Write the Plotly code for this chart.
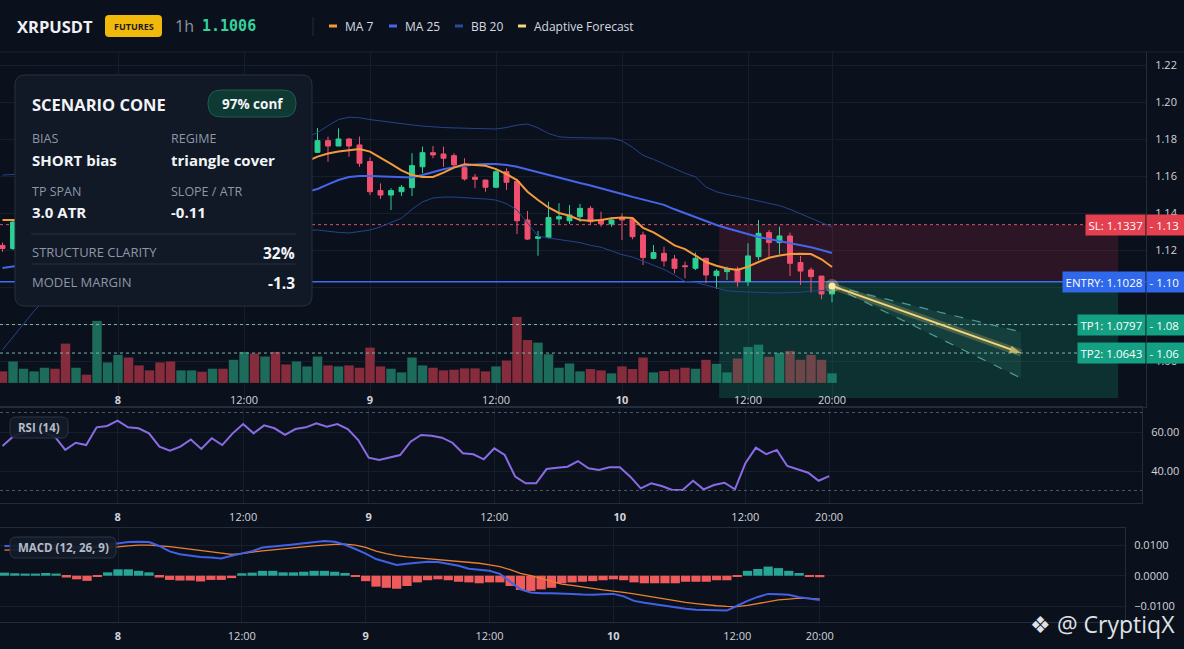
import pandas as pd
import plotly.graph_objects as go

W, H = 1184, 649
BG = "#0b111c"
GRID = "#161e2b"
AXLINE = "#242d3c"
TICK = "#d1d4dc"
UP = "#2ccf94"
DOWN = "#f0506e"
VOL_UP = "#1c6b5b"
VOL_DOWN = "#872c3c"
FONT = "Open Sans"

# ---- data -------------------------------------------------------------
symbol = "XRPUSDT"
interval = "1h"
last_price = 1.1006

times = pd.date_range("2024-11-07 13:00", periods=80, freq="h")

opens = [1.1225, 1.1208, 1.1351, 1.1392, 1.1418, 1.1446, 1.1424, 1.1328, 1.1372, 1.1350,
         1.1522, 1.1561, 1.1622, 1.1590, 1.1578, 1.1560, 1.1492, 1.1462, 1.1481, 1.1530,
         1.1490, 1.1551, 1.1524, 1.1602, 1.1681, 1.1622, 1.1690, 1.1671, 1.1640, 1.1692,
         1.1728, 1.1791, 1.1762, 1.1800, 1.1768, 1.1678, 1.1521, 1.1497, 1.1515, 1.1537,
         1.1650, 1.1726, 1.1719, 1.1710, 1.1645, 1.1593, 1.1578, 1.1539, 1.1623, 1.1570,
         1.1362, 1.1263, 1.1267, 1.1368, 1.1358, 1.1380, 1.1425, 1.1362, 1.1341, 1.1371,
         1.1366, 1.1281, 1.1155, 1.1182, 1.1151, 1.1115, 1.1101, 1.1155, 1.1061, 1.1083,
         1.1097, 1.1029, 1.1164, 1.1294, 1.1240, 1.1276, 1.1132, 1.1092, 1.1059, 1.0962]
highs = [1.1240, 1.1365, 1.1410, 1.1432, 1.1468, 1.1460, 1.1432, 1.1385, 1.1380, 1.1540,
         1.1578, 1.1640, 1.1635, 1.1605, 1.1590, 1.1568, 1.1505, 1.1495, 1.1542, 1.1538,
         1.1562, 1.1560, 1.1615, 1.1695, 1.1690, 1.1702, 1.1705, 1.1680, 1.1705, 1.1745,
         1.1859, 1.1813, 1.1858, 1.1805, 1.1813, 1.1701, 1.1560, 1.1534, 1.1551, 1.1723,
         1.1759, 1.1762, 1.1759, 1.1723, 1.1696, 1.1611, 1.1580, 1.1642, 1.1642, 1.1584,
         1.1411, 1.1303, 1.1461, 1.1453, 1.1443, 1.1449, 1.1438, 1.1407, 1.1377, 1.1398,
         1.1371, 1.1299, 1.1227, 1.1218, 1.1173, 1.1137, 1.1186, 1.1158, 1.1096, 1.1110,
         1.1110, 1.1236, 1.1362, 1.1308, 1.1326, 1.1294, 1.1168, 1.1105, 1.1059, 1.1011]
lows = [1.1190, 1.1200, 1.1335, 1.1378, 1.1405, 1.1410, 1.1310, 1.1320, 1.1335, 1.1342,
        1.1505, 1.1550, 1.1578, 1.1560, 1.1548, 1.1480, 1.1450, 1.1455, 1.1472, 1.1480,
        1.1485, 1.1512, 1.1518, 1.1595, 1.1610, 1.1615, 1.1660, 1.1628, 1.1632, 1.1680,
        1.1724, 1.1677, 1.1762, 1.1704, 1.1650, 1.1497, 1.1476, 1.1416, 1.1492, 1.1492,
        1.1615, 1.1696, 1.1650, 1.1650, 1.1575, 1.1534, 1.1515, 1.1534, 1.1524, 1.1286,
        1.1254, 1.1169, 1.1263, 1.1341, 1.1341, 1.1353, 1.1335, 1.1326, 1.1326, 1.1254,
        1.1258, 1.1119, 1.1150, 1.1110, 1.1074, 1.1047, 1.1092, 1.1020, 1.0989, 1.1038,
        1.1002, 1.1005, 1.1146, 1.1164, 1.1178, 1.1059, 1.1011, 1.0970, 1.0934, 1.0917]
closes = [1.1208, 1.1351, 1.1392, 1.1418, 1.1446, 1.1424, 1.1328, 1.1372, 1.1350, 1.1522,
          1.1561, 1.1622, 1.1590, 1.1578, 1.1560, 1.1492, 1.1462, 1.1481, 1.1530, 1.1490,
          1.1551, 1.1524, 1.1602, 1.1681, 1.1622, 1.1690, 1.1671, 1.1640, 1.1692, 1.1728,
          1.1791, 1.1762, 1.1800, 1.1762, 1.1669, 1.1515, 1.1497, 1.1521, 1.1539, 1.1656,
          1.1726, 1.1714, 1.1696, 1.1660, 1.1584, 1.1582, 1.1539, 1.1623, 1.1566, 1.1358,
          1.1259, 1.1272, 1.1375, 1.1380, 1.1389, 1.1425, 1.1353, 1.1341, 1.1362, 1.1362,
          1.1272, 1.1159, 1.1186, 1.1141, 1.1101, 1.1110, 1.1155, 1.1065, 1.1086, 1.1099,
          1.1029, 1.1168, 1.1290, 1.1240, 1.1276, 1.1128, 1.1086, 1.1056, 1.0962, 1.1006]
volumes = [3.5, 6.5, 4.3, 3.5, 4.6, 4.3, 11.9, 4.6, 2.5, 18.8,
           6.2, 8.5, 7.7, 5.3, 3.8, 6.2, 6.5, 3.8, 3.8, 3.4,
           4.3, 4.3, 7.0, 9.4, 8.9, 8.0, 9.4, 5.6, 6.5, 5.0,
           8.0, 5.3, 5.0, 5.3, 4.6, 10.7, 5.0, 4.3, 3.2, 7.7,
           5.3, 4.6, 3.8, 4.0, 4.4, 4.4, 3.5, 5.0, 6.8, 20.0,
           13.0, 12.2, 8.7, 4.6, 5.9, 3.5, 4.2, 3.8, 2.9, 5.0,
           4.2, 7.7, 3.2, 3.6, 4.1, 4.6, 4.3, 7.0, 5.8, 3.2,
           7.4, 10.9, 11.6, 7.9, 9.1, 9.7, 7.0, 8.5, 7.0, 2.9]

ma7 = [1.1362, 1.1360, 1.1362, 1.1370, 1.1385, 1.1398, 1.1392, 1.1392, 1.1385, 1.1405,
       1.1430, 1.1462, 1.1488, 1.1518, 1.1545, 1.1560, 1.1555, 1.1540, 1.1530, 1.1520,
       1.1515, 1.1510, 1.1520, 1.1545, 1.1565, 1.1590, 1.1620, 1.1640, 1.1660, 1.1680,
       1.1705, 1.1722, 1.1732, 1.1740, 1.1746, 1.1732, 1.1700, 1.1665, 1.1630, 1.1605,
       1.1595, 1.1595, 1.1618, 1.1645, 1.1664, 1.1661, 1.1655, 1.1637, 1.1610, 1.1578,
       1.1515, 1.1470, 1.1430, 1.1400, 1.1385, 1.1362, 1.1358, 1.1362, 1.1372, 1.1376,
       1.1373, 1.1320, 1.1295, 1.1262, 1.1225, 1.1205, 1.1170, 1.1135, 1.1115, 1.1100,
       1.1092, 1.1110, 1.1135, 1.1158, 1.1170, 1.1178, 1.1180, 1.1178, 1.1150, 1.1108]
ma25 = [1.1103, 1.1110, 1.1118, 1.1127, 1.1136, 1.1145, 1.1152, 1.1160, 1.1168, 1.1180,
        1.1195, 1.1212, 1.1228, 1.1245, 1.1262, 1.1278, 1.1292, 1.1308, 1.1325, 1.1342,
        1.1360, 1.1378, 1.1400, 1.1425, 1.1445, 1.1465, 1.1482, 1.1495, 1.1505, 1.1515,
        1.1530, 1.1555, 1.1578, 1.1594, 1.1600, 1.1600, 1.1598, 1.1594, 1.1590, 1.1592,
        1.1605, 1.1622, 1.1636, 1.1648, 1.1657, 1.1662, 1.1665, 1.1665, 1.1660, 1.1650,
        1.1635, 1.1620, 1.1605, 1.1588, 1.1575, 1.1562, 1.1549, 1.1535, 1.1520, 1.1503,
        1.1487, 1.1472, 1.1458, 1.1444, 1.1420, 1.1398, 1.1375, 1.1355, 1.1335, 1.1318,
        1.1302, 1.1285, 1.1270, 1.1259, 1.1248, 1.1238, 1.1228, 1.1215, 1.1200, 1.1184]
bb_upper = [1.1605, 1.1608, 1.1610, 1.1612, 1.1615, 1.1618, 1.1620, 1.1625, 1.1630, 1.1640,
            1.1650, 1.1662, 1.1672, 1.1682, 1.1690, 1.1698, 1.1704, 1.1710, 1.1715, 1.1720,
            1.1728, 1.1735, 1.1745, 1.1758, 1.1768, 1.1775, 1.1782, 1.1790, 1.1800, 1.1810,
            1.1835, 1.1872, 1.1905, 1.1918, 1.1915, 1.1905, 1.1897, 1.1890, 1.1882, 1.1876,
            1.1870, 1.1865, 1.1862, 1.1860, 1.1858, 1.1856, 1.1855, 1.1854, 1.1862, 1.1875,
            1.1881, 1.1860, 1.1830, 1.1812, 1.1808, 1.1806, 1.1805, 1.1805, 1.1805, 1.1790,
            1.1755, 1.1712, 1.1690, 1.1665, 1.1640, 1.1615, 1.1595, 1.1540, 1.1515, 1.1500,
            1.1490, 1.1478, 1.1468, 1.1455, 1.1440, 1.1420, 1.1395, 1.1370, 1.1345, 1.1324]
bb_lower = [1.0660, 1.0730, 1.0800, 1.0870, 1.0930, 1.0975, 1.1005, 1.1030, 1.1045, 1.1060,
            1.1075, 1.1090, 1.1105, 1.1120, 1.1135, 1.1150, 1.1162, 1.1172, 1.1182, 1.1192,
            1.1205, 1.1218, 1.1232, 1.1248, 1.1262, 1.1275, 1.1285, 1.1292, 1.1300, 1.1305,
            1.1308, 1.1300, 1.1295, 1.1292, 1.1300, 1.1308, 1.1325, 1.1350, 1.1372, 1.1420,
            1.1460, 1.1481, 1.1486, 1.1486, 1.1484, 1.1480, 1.1476, 1.1470, 1.1450, 1.1416,
            1.1345, 1.1275, 1.1265, 1.1257, 1.1252, 1.1240, 1.1225, 1.1215, 1.1195, 1.1175,
            1.1162, 1.1140, 1.1118, 1.1095, 1.1065, 1.1030, 1.1025, 1.1010, 1.0992, 1.0980,
            1.0975, 1.0972, 1.0970, 1.0969, 1.0968, 1.0968, 1.0972, 1.0978, 1.0982, 1.0984]

rsi = [52.8, 57.6, 59.5, 60.5, 60.0, 57.6, 50.8, 54.5, 53.3, 62.4,
       63.1, 65.8, 62.4, 61.9, 59.3, 52.5, 50.4, 52.5, 56.2, 51.3,
       56.8, 53.3, 59.3, 64.1, 59.3, 63.4, 61.9, 58.5, 61.5, 62.4,
       64.5, 62.7, 64.1, 61.5, 55.9, 46.8, 45.6, 46.8, 48.2, 55.0,
       58.5, 58.1, 57.1, 54.5, 49.1, 48.6, 46.0, 51.6, 48.2, 37.1,
       33.7, 33.7, 41.0, 41.7, 42.2, 45.1, 41.4, 40.5, 41.9, 41.9,
       37.1, 31.1, 33.7, 32.3, 30.3, 30.3, 35.0, 30.6, 32.8, 34.0,
       30.6, 44.0, 52.0, 48.6, 50.8, 42.6, 40.9, 39.1, 35.0, 37.4]

macd = [0.0098, 0.0098, 0.0099, 0.0099, 0.0100, 0.0100, 0.0097, 0.0094, 0.0093, 0.0097,
        0.0102, 0.0106, 0.0111, 0.0112, 0.0111, 0.0098, 0.0080, 0.0071, 0.0066, 0.0062,
        0.0060, 0.0057, 0.0066, 0.0074, 0.0081, 0.0093, 0.0096, 0.0098, 0.0103, 0.0107,
        0.0111, 0.0114, 0.0112, 0.0102, 0.0088, 0.0073, 0.0055, 0.0044, 0.0035, 0.0039,
        0.0043, 0.0046, 0.0045, 0.0040, 0.0033, 0.0023, 0.0020, 0.0016, 0.0006, -0.0018,
        -0.0045, -0.0055, -0.0058, -0.0058, -0.0058, -0.0060, -0.0062, -0.0063, -0.0061, -0.0060,
        -0.0068, -0.0083, -0.0089, -0.0094, -0.0100, -0.0105, -0.0109, -0.0112, -0.0113, -0.0114,
        -0.0115, -0.0099, -0.0083, -0.0070, -0.0060, -0.0061, -0.0063, -0.0071, -0.0076, -0.0080]
signal = [0.0084, 0.0085, 0.0086, 0.0087, 0.0088, 0.0088, 0.0089, 0.0090, 0.0091, 0.0092,
          0.0093, 0.0095, 0.0098, 0.0101, 0.0101, 0.0099, 0.0096, 0.0092, 0.0088, 0.0083,
          0.0078, 0.0074, 0.0070, 0.0073, 0.0078, 0.0082, 0.0085, 0.0089, 0.0092, 0.0095,
          0.0098, 0.0101, 0.0103, 0.0104, 0.0101, 0.0093, 0.0081, 0.0073, 0.0066, 0.0062,
          0.0059, 0.0057, 0.0055, 0.0052, 0.0048, 0.0045, 0.0041, 0.0036, 0.0030, 0.0020,
          0.0008, 0.0000, -0.0009, -0.0019, -0.0028, -0.0032, -0.0036, -0.0042, -0.0047, -0.0050,
          -0.0055, -0.0060, -0.0066, -0.0072, -0.0078, -0.0083, -0.0088, -0.0092, -0.0096, -0.0099,
          -0.0101, -0.0102, -0.0098, -0.0092, -0.0085, -0.0080, -0.0077, -0.0074, -0.0075, -0.0077]
hist = [0.0010, 0.0008, 0.0007, 0.0007, 0.0009, 0.0007, -0.0006, -0.0012, -0.0017, -0.0003,
        0.0011, 0.0021, 0.0021, 0.0016, 0.0011, -0.0006, -0.0014, -0.0016, -0.0016, -0.0019,
        -0.0014, -0.0014, -0.0008, 0.0008, 0.0010, 0.0016, 0.0016, 0.0011, 0.0011, 0.0013,
        0.0016, 0.0016, 0.0013, 0.0009, -0.0002, -0.0018, -0.0036, -0.0040, -0.0043, -0.0034,
        -0.0022, -0.0015, -0.0012, -0.0015, -0.0020, -0.0022, -0.0025, -0.0022, -0.0022, -0.0034,
        -0.0047, -0.0050, -0.0045, -0.0040, -0.0025, -0.0022, -0.0020, -0.0018, -0.0015, -0.0012,
        -0.0015, -0.0022, -0.0025, -0.0025, -0.0025, -0.0025, -0.0020, -0.0020, -0.0020, -0.0015,
        -0.0015, -0.0003, 0.0016, 0.0022, 0.0030, 0.0025, 0.0016, 0.0009, -0.0002, -0.0005]

# trade plan
sl, entry, tp1, tp2 = 1.1337, 1.1028, 1.0797, 1.0643
zone_start, zone_end = pd.Timestamp("2024-11-10 09:15"), pd.Timestamp("2024-11-11 23:15")
zone_floor = 1.04
fc_end = times[-1] + pd.Timedelta(hours=18)
fc_mid = [1.1006, 1.0643]
fc_upper = [1.1006, 1.0757]
fc_lower = [1.1006, 1.0508]

tick_vals = ["2024-11-08 00:00", "2024-11-08 12:00", "2024-11-09 00:00", "2024-11-09 12:00",
             "2024-11-10 00:00", "2024-11-10 12:00", "2024-11-10 20:00"]
tick_text = ["<b>8</b>", "12:00", "<b>9</b>", "12:00", "<b>10</b>", "12:00", "20:00"]
price_ticks = [1.06, 1.08, 1.10, 1.12, 1.14, 1.16, 1.18, 1.20, 1.22]
price_tick_text = ["1.06", "", "", "1.12", "1.14", "1.16", "1.18", "1.20", "1.22"]
rsi_ticks = [40, 60]
macd_ticks = [-0.01, 0.0, 0.01]

card_rows = [("BIAS", "SHORT bias", "REGIME", "triangle cover"),
             ("TP SPAN", "3.0 ATR", "SLOPE / ATR", "-0.11")]
card_stats = [("STRUCTURE CLARITY", "32%"), ("MODEL MARGIN", "-1.3")]
confidence = "97% conf"

legend_items = [("MA 7", "#f39a3b"), ("MA 25", "#4665ea"), ("BB 20", "#284a9c"),
                ("Adaptive Forecast", "#f5d77a")]


def px(x):
    return x / W


def py(y):
    return 1 - y / H


def rrect(x0, y0, x1, y1, r):
    X, Y = px, py
    return (f"M {X(x0 + r)},{Y(y0)} L {X(x1 - r)},{Y(y0)} Q {X(x1)},{Y(y0)} {X(x1)},{Y(y0 + r)} "
            f"L {X(x1)},{Y(y1 - r)} Q {X(x1)},{Y(y1)} {X(x1 - r)},{Y(y1)} "
            f"L {X(x0 + r)},{Y(y1)} Q {X(x0)},{Y(y1)} {X(x0)},{Y(y1 - r)} "
            f"L {X(x0)},{Y(y0 + r)} Q {X(x0)},{Y(y0)} {X(x0 + r)},{Y(y0)} Z")


day8 = pd.Timestamp("2024-11-08 00:00")
hour = pd.Timedelta(hours=1)
price_xrange = [day8 - hour * (118 / 10.5), day8 + hour * ((1146 - 118) / 10.5)]
macd_xrange = [day8 - hour * (118 / 10.32), day8 + hour * ((1125 - 118) / 10.32)]
price_range = [1.22 - (407 - 65) / 1850, 1.22 + (65 - 52) / 1850]

fig = go.Figure()

# volume (base axis, drawn first)
vol_colors = [VOL_UP if c >= o else VOL_DOWN for o, c in zip(opens, closes)]
fig.add_trace(go.Bar(x=times, y=volumes, marker=dict(color=vol_colors, line=dict(width=0)),
                     xaxis="x", yaxis="y", hoverinfo="skip"))

# risk / reward zones + level lines (middle overlay)
fig.add_trace(go.Scatter(x=[zone_start, zone_end, zone_end, zone_start, zone_start],
                         y=[sl, sl, entry, entry, sl], mode="lines", fill="toself",
                         fillcolor="rgba(205,50,85,0.17)", line=dict(width=0),
                         xaxis="x", yaxis="y2", hoverinfo="skip"))
fig.add_trace(go.Scatter(x=[zone_start, zone_end, zone_end, zone_start, zone_start],
                         y=[entry, entry, zone_floor, zone_floor, entry], mode="lines", fill="toself",
                         fillcolor="rgba(22,165,125,0.22)", line=dict(width=0),
                         xaxis="x", yaxis="y2", hoverinfo="skip"))
for level, color, dash, width in [(sl, "#d8506a", "dot", 1), (tp1, "#7db5ad", "dot", 1),
                                  (tp2, "#7db5ad", "dot", 1), (entry, "#3d6ef5", "solid", 1.5)]:
    fig.add_trace(go.Scatter(x=price_xrange, y=[level, level], mode="lines",
                             line=dict(color=color, width=width, dash=dash),
                             xaxis="x", yaxis="y2", hoverinfo="skip"))

# candles and overlays (top overlay)
fig.add_trace(go.Candlestick(x=times, open=opens, high=highs, low=lows, close=closes,
                             increasing=dict(line=dict(color=UP, width=1), fillcolor=UP),
                             decreasing=dict(line=dict(color=DOWN, width=1), fillcolor=DOWN),
                             whiskerwidth=0, xaxis="x", yaxis="y3", hoverinfo="skip"))
for vals, color, width in [(bb_upper, "#24438f", 1), (bb_lower, "#24438f", 1),
                           (ma25, "#4665ea", 2), (ma7, "#f39a3b", 2)]:
    fig.add_trace(go.Scatter(x=times, y=vals, mode="lines", line=dict(color=color, width=width),
                             xaxis="x", yaxis="y3", hoverinfo="skip"))

# forecast cone
t_last = times[-1]
fig.add_trace(go.Scatter(x=[t_last, fc_end, fc_end, t_last], y=[fc_upper[0], fc_upper[1], fc_lower[1], fc_lower[0]],
                         mode="lines", fill="toself", fillcolor="rgba(95,190,175,0.10)",
                         line=dict(width=0), xaxis="x", yaxis="y3", hoverinfo="skip"))
for edge in (fc_upper, fc_lower):
    fig.add_trace(go.Scatter(x=[t_last, fc_end], y=edge, mode="lines",
                             line=dict(color="#4f9a92", width=1.2, dash="dash"),
                             xaxis="x", yaxis="y3", hoverinfo="skip"))
fig.add_trace(go.Scatter(x=[t_last, fc_end], y=fc_mid, mode="lines",
                         line=dict(color="rgba(245,215,122,0.22)", width=7),
                         xaxis="x", yaxis="y3", hoverinfo="skip"))
fig.add_trace(go.Scatter(x=[t_last, fc_end], y=fc_mid, mode="lines+markers",
                         line=dict(color="#f5d77a", width=2),
                         marker=dict(symbol=["circle", "arrow"], size=[0, 12], angleref="previous",
                                     color="#f5d77a", line=dict(width=0)),
                         xaxis="x", yaxis="y3", hoverinfo="skip"))
fig.add_trace(go.Scatter(x=[t_last], y=[fc_mid[0]], mode="markers",
                         marker=dict(size=14, color="rgba(245,215,122,0.30)"),
                         xaxis="x", yaxis="y3", hoverinfo="skip"))
fig.add_trace(go.Scatter(x=[t_last], y=[fc_mid[0]], mode="markers",
                         marker=dict(size=7, color="#fbe9a8"),
                         xaxis="x", yaxis="y3", hoverinfo="skip"))

# RSI
fig.add_trace(go.Scatter(x=times, y=rsi, mode="lines", line=dict(color="#8a6be6", width=2),
                         xaxis="x2", yaxis="y4", hoverinfo="skip"))

# MACD
fig.add_trace(go.Bar(x=times, y=hist, marker=dict(color=["#28a596" if v >= 0 else "#ef5a5a" for v in hist],
                                                  line=dict(width=0)),
                     xaxis="x3", yaxis="y5", hoverinfo="skip"))
fig.add_trace(go.Scatter(x=times, y=signal, mode="lines", line=dict(color="#ec8030", width=1.3),
                         xaxis="x3", yaxis="y5", hoverinfo="skip"))
fig.add_trace(go.Scatter(x=times, y=macd, mode="lines", line=dict(color="#4361e6", width=2),
                         xaxis="x3", yaxis="y5", hoverinfo="skip"))

tickfont = dict(family=FONT, size=11, color=TICK)
common_x = dict(type="date", tickmode="array", tickvals=tick_vals, ticktext=tick_text,
                showgrid=True, gridcolor=GRID, zeroline=False, tickfont=tickfont,
                showline=True, linecolor=AXLINE, fixedrange=True)
common_y = dict(side="right", showgrid=True, gridcolor=GRID, zeroline=False, tickfont=tickfont,
                showline=True, linecolor=AXLINE, ticks="outside", ticklen=6, tickcolor=BG,
                fixedrange=True)

fig.update_layout(
    width=W, height=H, margin=dict(l=0, r=0, t=0, b=0),
    paper_bgcolor=BG, plot_bgcolor=BG, showlegend=False,
    bargap=0.1, boxgap=0.33, font=dict(family=FONT, color=TICK),
    xaxis=dict(**common_x, domain=[0, px(1146)], range=price_xrange, anchor="y",
               ticks="", ticklabelposition="inside", rangeslider=dict(visible=False)),
    yaxis=dict(domain=[py(407), py(52)], range=[-7.3, 100.3], visible=False, fixedrange=True),
    yaxis2=dict(overlaying="y", anchor="x", range=price_range, visible=False, fixedrange=True),
    yaxis3=dict(**common_y, overlaying="y", anchor="x", range=price_range,
                tickmode="array", tickvals=price_ticks, ticktext=price_tick_text),
    xaxis2=dict(**common_x, domain=[0, px(1142)], matches="x", anchor="y4", mirror=True,
                ticks="outside", ticklen=4, tickcolor=BG, rangeslider=dict(visible=False)),
    yaxis4=dict(**common_y, domain=[py(503), py(407)], anchor="x2", range=[23.59, 72.82],
                tickmode="array", tickvals=rsi_ticks, tickformat=".2f"),
    xaxis3=dict(**common_x, domain=[0, px(1125)], range=macd_xrange, anchor="y5", mirror=True,
                ticks="outside", ticklen=4, tickcolor=BG),
    yaxis5=dict(**common_y, domain=[py(622), py(528)], anchor="x3", range=[-0.01526, 0.01572],
                tickmode="array", tickvals=macd_ticks, tickformat=".4f"),
)

shapes = []
annotations = []


def text(t, x, y, size=12, color="#e6e9ef", xanchor="left", family=FONT, **kw):
    annotations.append(dict(text=t, x=px(x), y=py(y), xref="paper", yref="paper", showarrow=False,
                            xanchor=xanchor, yanchor="middle", font=dict(family=family, size=size, color=color), **kw))


# header
shapes.append(dict(type="line", xref="paper", yref="paper", x0=0, x1=1, y0=py(52), y1=py(52),
                   line=dict(color="#1c2433", width=1)))
text(f"<b>{symbol}</b>", 15, 26, size=16.5, color="#eef0f4")
shapes.append(dict(type="path", xref="paper", yref="paper", path=rrect(105, 15, 162, 37, 4),
                   fillcolor="#f0b90b", line=dict(width=0)))
text("<b>FUTURES</b>", 133.5, 26.5, size=9, color="#1b1b1b", xanchor="center")
text(interval, 173, 26, size=16, color="#8b93a3")
text(f"<b>{last_price:.4f}</b>", 200, 26, size=15, color="#34d39c", family="DejaVu Sans Mono")
shapes.append(dict(type="line", xref="paper", yref="paper", x0=px(313), x1=px(313), y0=py(17), y1=py(36),
                   line=dict(color="#242c3b", width=1)))
legend_x = [328, 388, 454, 517]
for (name, color), lx in zip(legend_items, legend_x):
    shapes.append(dict(type="line", xref="paper", yref="paper", x0=px(lx + 1), x1=px(lx + 9),
                       y0=py(26), y1=py(26), line=dict(color=color, width=3)))
    text(name, lx + 15, 26, size=12, color="#d6d9e0")

# scenario card
shapes.append(dict(type="path", xref="paper", yref="paper", path=rrect(15, 75, 312, 306, 10),
                   fillcolor="#111826", line=dict(color="#283142", width=1), layer="above"))
text("<b>SCENARIO CONE</b>", 30, 104, size=16.5, color="#f2f4f7")
shapes.append(dict(type="path", xref="paper", yref="paper", path=rrect(208, 90, 296, 117, 13),
                   fillcolor="#0f3a33", line=dict(color="#1f5d51", width=1), layer="above"))
text(f"<b>{confidence}</b>", 252, 104, size=13.5, color="#f2f4f7", xanchor="center")
for i, (l1, v1, l2, v2) in enumerate(card_rows):
    y0 = 139 + i * 52
    text(l1, 30, y0, size=12.5, color="#8e97a7")
    text(f"<b>{v1}</b>", 30, y0 + 21, size=15, color="#f2f4f7")
    text(l2, 169, y0, size=12.5, color="#8e97a7")
    text(f"<b>{v2}</b>", 169, y0 + 21, size=15, color="#f2f4f7")
for i, (label, value) in enumerate(card_stats):
    y0 = 252 + i * 30
    shapes.append(dict(type="line", xref="paper", yref="paper", x0=px(31), x1=px(296),
                       y0=py(y0 - 18), y1=py(y0 - 18), line=dict(color="#283142", width=1), layer="above"))
    text(label, 30, y0, size=13, color="#8e97a7")
    text(f"<b>{value}</b>", 297, y0 + 1, size=15.5, color="#f2f4f7", xanchor="right")

# price level tags on the right axis
for name, level, bg in [("SL", sl, "#e5404f"), ("ENTRY", entry, "#2f68ea"),
                        ("TP1", tp1, "#13a083"), ("TP2", tp2, "#13a083")]:
    for t, xa in [(f"{name}: {level:.4f}", "right"), (f"- {level:.2f}", "left")]:
        extra = dict(width=33, align="left") if xa == "left" else {}
        annotations.append(dict(text=t, x=px(1146), y=level, xref="paper", yref="y3", showarrow=False,
                                xanchor=xa, yanchor="middle", bgcolor=bg, borderpad=2.5,
                                font=dict(family=FONT, size=11.5, color="#ffffff"), **extra))

# RSI guides + labels
for level in (70, 30):
    shapes.append(dict(type="line", xref="x2 domain", yref="y4", x0=0, x1=1, y0=level, y1=level,
                       line=dict(color="#4d5566", width=1, dash="dot")))
for label, x0, x1, yc in [("RSI (14)", 10, 68, 427.5), ("MACD (12, 26, 9)", 10, 116, 547.5)]:
    shapes.append(dict(type="path", xref="paper", yref="paper", path=rrect(x0, yc - 10.5, x1, yc + 10.5, 6),
                       fillcolor="rgba(20,27,40,0.92)", line=dict(color="#2b3445", width=1), layer="above"))
    text(f"<b>{label}</b>", (x0 + x1) / 2, yc, size=11.5, color="#b3bbc7", xanchor="center")

# watermark
text("❖ @ CryptiqX", 1177, 624, size=23, color="#dfe2e7", xanchor="right")

fig.update_layout(shapes=shapes, annotations=annotations)
fig.write_html("out.html", config={"displayModeBar": False},
               post_script="document.body.style.margin='0';document.body.style.background='#0b111c';")
